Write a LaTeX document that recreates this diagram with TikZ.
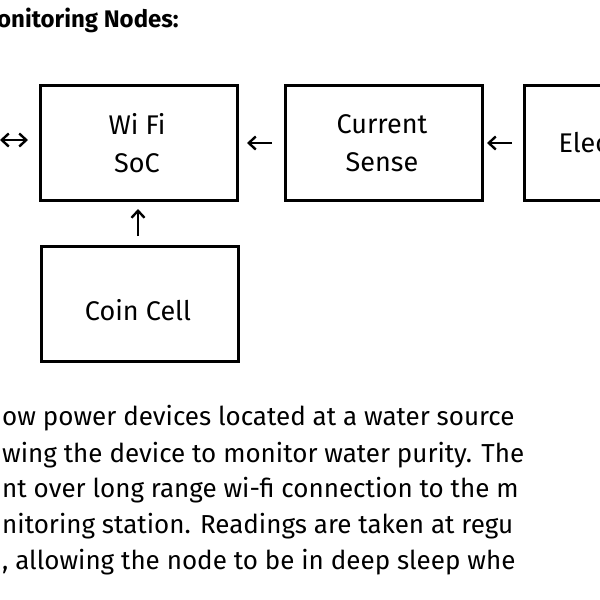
\documentclass[tikz,border=0pt]{standalone}
\usepackage{fontspec}
\setmainfont{Fira Sans}
\usetikzlibrary{arrows.meta}
\begin{document}
\begin{tikzpicture}[x=1pt,y=-1pt,
  box/.style={draw,line width=2.6pt,minimum width=197pt,minimum height=115pt,inner sep=0pt,anchor=north west},
  lbl/.style={font=\fontsize{27}{38}\selectfont,align=center},
  para/.style={anchor=west,font=\fontsize{26}{30}\selectfont,inner sep=0pt},
  arr/.style={line width=2.4pt,-{Straight Barb[length=7pt,width=13pt]}}]
\useasboundingbox (0,0) rectangle (600,600);
\clip (0,0) rectangle (600,600);
\node[anchor=west,inner sep=0pt,font=\fontsize{24}{30}\selectfont\bfseries] (h) at (-3,20) {onitoring Nodes:};
\node[box] (wifi) at (39,84) {};
\node[lbl] (wifit) at (137,143) {Wi Fi\\SoC};
\node[box] (cur) at (284,84) {};
\node[lbl] (curt) at (382,143) {Current\\Sense};
\node[box] (elec) at (523,84) {};
\node[lbl,anchor=west] (elect) at (555,143) {Elec};
\node[box] (coin) at (40,245) {};
\node[lbl] (coint) at (138,310) {Coin Cell};
\coordinate (l1) at (0,140); \coordinate (l2) at (28,140);
\draw[line width=2.4pt,{Straight Barb[length=7pt,width=13pt]}-{Straight Barb[length=7pt,width=13pt]}] (l1) -- (l2);
\coordinate (a1) at (272,143); \coordinate (a2) at (247,143);
\draw[arr] (a1) -- (a2);
\coordinate (b1) at (512,143); \coordinate (b2) at (487,143);
\draw[arr] (b1) -- (b2);
\coordinate (c1) at (138,236); \coordinate (c2) at (138,209);
\draw[arr] (c1) -- (c2);
\node[para] (p1) at (2,418) {ow power devices located at a water source};
\node[para] (p2) at (2,455) {wing the device to monitor water purity. The};
\node[para] (p3) at (2,490) {nt over long range wi-fi connection to the m};
\node[para] (p4) at (2,526) {nitoring station. Readings are taken at regu};
\node[para] (p5) at (2,562) {, allowing the node to be in deep sleep whe};
\end{tikzpicture}
\end{document}
